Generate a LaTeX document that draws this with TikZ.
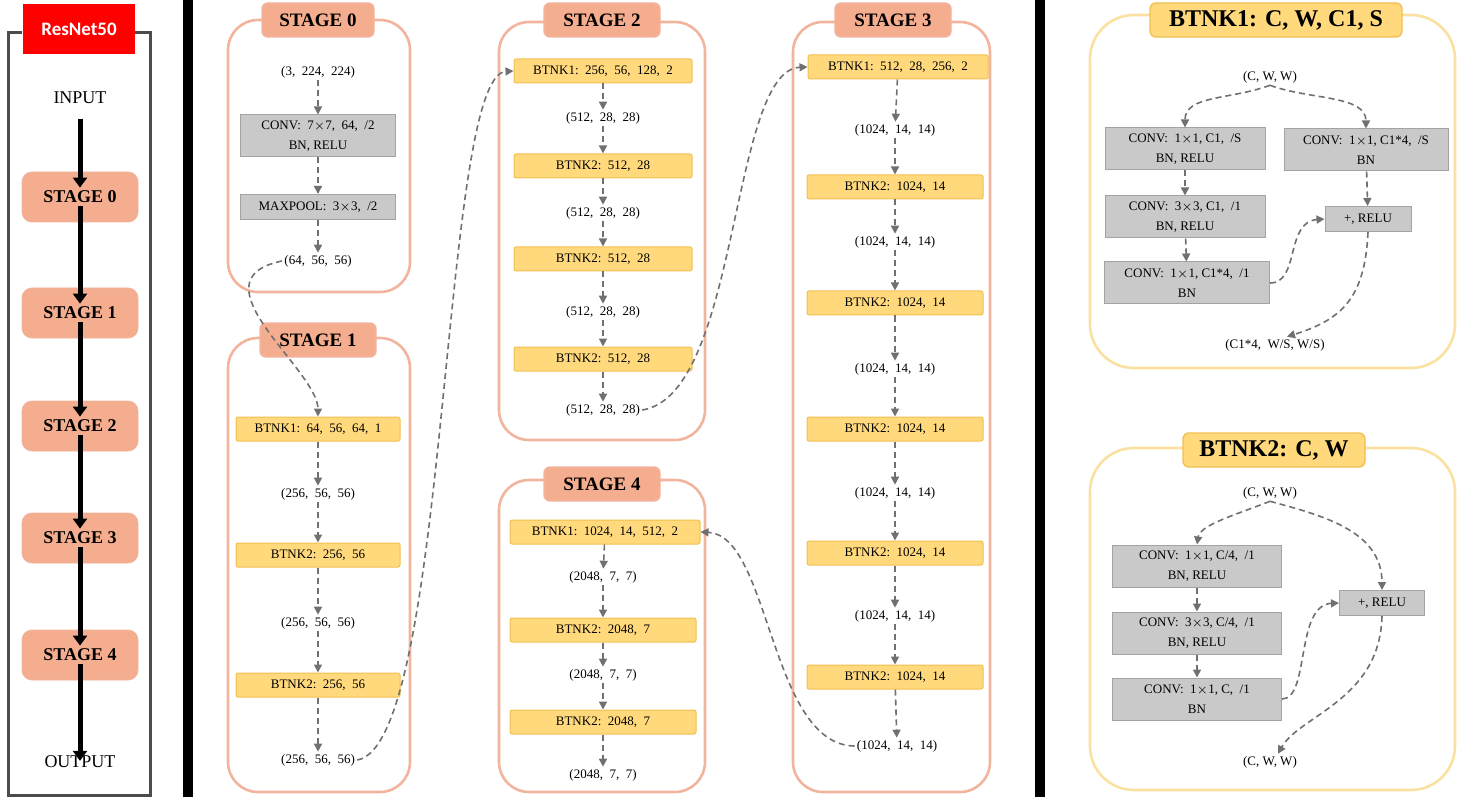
\documentclass[tikz,border=0pt]{standalone}
\usepackage{fontspec}
\setmainfont{Liberation Serif}
\newfontfamily\carl{Carlito}
\usetikzlibrary{arrows.meta}
\definecolor{stfill}{HTML}{F5AD8F}
\definecolor{stline}{HTML}{F2B49C}
\definecolor{btfill}{HTML}{FFD97C}
\definecolor{btline}{HTML}{F0C050}
\definecolor{gyfill}{HTML}{C9C9C9}
\definecolor{gyline}{HTML}{A3A3A3}
\definecolor{pnline}{HTML}{FBE1A0}
\definecolor{arr}{HTML}{707070}
\tikzset{
 txt/.style={font=\fontsize{6.5}{8}\selectfont, inner sep=1pt},
 gbox/.style={txt, draw=gyline, fill=gyfill, align=center, line width=0.5pt, minimum height=12.5pt},
 ybox/.style={txt, draw=btline, fill=btfill, rounded corners=1pt, minimum height=12pt, line width=0.5pt},
 stitle/.style={draw=stline, fill=stfill, rounded corners=3pt, font=\bfseries\fontsize{9.5}{11}\selectfont, minimum height=17pt, line width=0.7pt},
 container/.style={draw=stline, line width=1.3pt, rounded corners=15pt},
 panel/.style={draw=pnline, line width=1.3pt, rounded corners=22pt},
 ptitle/.style={draw=btline, fill=btfill, rounded corners=3pt, font=\bfseries\fontsize{12}{14}\selectfont, minimum height=17pt, line width=0.7pt},
 da/.style={draw=arr, dashed, line width=0.8pt, dash pattern=on 3pt off 2pt, -{Triangle[width=4pt,length=4pt]}},
 lstage/.style={draw=stline, fill=stfill, rounded corners=5pt, font=\bfseries\fontsize{9}{11}\selectfont, minimum width=58pt, minimum height=25pt},
 blk/.style={line width=2.5pt, -{Triangle[width=7pt,length=5pt]}},
}
\begin{document}
\begin{tikzpicture}[x=0.5pt,y=-0.5pt]
\useasboundingbox (0,0) rectangle (1464,797);
% black bars
\fill (183,0) rectangle (193,797);
\fill (1035,0) rectangle (1045,797);
% left panel
\draw[draw=black!70, line width=1.5pt] (22,33) -- (8,33) -- (8,795) -- (150,795) -- (150,33) -- (135,33);
\node[fill=red, text=white, font=\carl\bfseries\fontsize{9.5}{11}\selectfont, minimum width=56pt, minimum height=25pt] (rn) at (79,29) {ResNet50};
\node[font=\fontsize{9}{11}\selectfont] (inp) at (80,98) {INPUT};
\node[lstage] (l0) at (80,197) {STAGE 0};
\node[lstage] (l1) at (80,313) {STAGE 1};
\node[lstage] (l2) at (80,426) {STAGE 2};
\node[lstage] (l3) at (80,538) {STAGE 3};
\node[lstage] (l4) at (80,655) {STAGE 4};
\node[font=\fontsize{9}{11}\selectfont] (out) at (80,762) {OUTPUT};
\draw[blk] (inp.south)++(0,8) -- ([yshift=-8]l0.north);
\draw[blk] ([yshift=8]l0.south) -- ([yshift=-8]l1.north);
\draw[blk] ([yshift=8]l1.south) -- ([yshift=-8]l2.north);
\draw[blk] ([yshift=8]l2.south) -- ([yshift=-8]l3.north);
\draw[blk] ([yshift=8]l3.south) -- ([yshift=-8]l4.north);
\draw[blk] ([yshift=8]l4.south) -- ([yshift=-6]out.north);
% stage 0
\draw[container] (228,20) rectangle (410,292);
\node[stitle, minimum width=56pt] (t0) at (318,20) {STAGE 0};
\node[txt] (a0) at (318,72) {(3,\ \ 224,\ \ 224)};
\node[gbox, minimum width=77.5pt, minimum height=21pt] (a1) at (318,136) {CONV:\ \ 7$\times$7,\ \ 64,\ \ /2\\[2pt]BN,\ RELU};
\node[gbox, minimum width=77.5pt] (a2) at (318,207) {MAXPOOL:\ \ 3$\times$3,\ \ /2};
\node[txt] (a3) at (318,261) {(64,\ \ 56,\ \ 56)};
\draw[da] (a0) -- (a1); \draw[da] (a1) -- (a2); \draw[da] (a2) -- (a3);
% stage 1
\draw[container] (228,338) rectangle (410,792);
\node[stitle, minimum width=58pt] (t1) at (318,340) {STAGE 1};
\node[ybox, minimum width=82pt] (b0) at (318,429) {BTNK1:\ \ 64,\ \ 56,\ \ 64,\ \ 1};
\node[txt] (b1) at (318,494) {(256,\ \ 56,\ \ 56)};
\node[ybox, minimum width=82pt] (b2) at (318,555) {BTNK2:\ \ 256,\ \ 56};
\node[txt] (b3) at (318,623) {(256,\ \ 56,\ \ 56)};
\node[ybox, minimum width=82pt] (b4) at (318,685) {BTNK2:\ \ 256,\ \ 56};
\node[txt] (b5) at (318,760) {(256,\ \ 56,\ \ 56)};
\draw[da] (b0) -- (b1); \draw[da] (b1) -- (b2); \draw[da] (b2) -- (b3); \draw[da] (b3) -- (b4); \draw[da] (b4) -- (b5);
% stage 2
\draw[container] (499,22) rectangle (705,440);
\node[stitle, minimum width=58pt] (t2) at (602,20) {STAGE 2};
\node[ybox, minimum width=89pt] (c0) at (603,71) {BTNK1:\ \ 256,\ \ 56,\ \ 128,\ \ 2};
\node[txt] (c1) at (603,118) {(512,\ \ 28,\ \ 28)};
\node[ybox, minimum width=89pt] (c2) at (603,166) {BTNK2:\ \ 512,\ \ 28};
\node[txt] (c3) at (603,213) {(512,\ \ 28,\ \ 28)};
\node[ybox, minimum width=89pt] (c4) at (603,259) {BTNK2:\ \ 512,\ \ 28};
\node[txt] (c5) at (603,312) {(512,\ \ 28,\ \ 28)};
\node[ybox, minimum width=89pt] (c6) at (603,359) {BTNK2:\ \ 512,\ \ 28};
\node[txt] (c7) at (603,410) {(512,\ \ 28,\ \ 28)};
\foreach \p/\q in {c0/c1,c1/c2,c2/c3,c3/c4,c4/c5,c5/c6,c6/c7} \draw[da] (\p) -- (\q);
% stage 4
\draw[container] (499,480) rectangle (705,792);
\node[stitle, minimum width=58pt] (t4) at (602,484) {STAGE 4};
\node[ybox, minimum width=95pt] (e0) at (605,532) {BTNK1:\ \ 1024,\ \ 14,\ \ 512,\ \ 2};
\node[txt] (e1) at (603,577) {(2048,\ \ 7,\ \ 7)};
\node[ybox, minimum width=93pt] (e2) at (603,630) {BTNK2:\ \ 2048,\ \ 7};
\node[txt] (e3) at (603,675) {(2048,\ \ 7,\ \ 7)};
\node[ybox, minimum width=93pt] (e4) at (603,722) {BTNK2:\ \ 2048,\ \ 7};
\node[txt] (e5) at (603,775) {(2048,\ \ 7,\ \ 7)};
\foreach \p/\q in {e0/e1,e1/e2,e2/e3,e3/e4,e4/e5} \draw[da] (\p) -- (\q);
% stage 3
\draw[container] (793,22) rectangle (990,792);
\node[stitle, minimum width=58pt] (t3) at (893,20) {STAGE 3};
\node[ybox, minimum width=90pt] (d0) at (898,67) {BTNK1:\ \ 512,\ \ 28,\ \ 256,\ \ 2};
\node[txt] (d1) at (895,130) {(1024,\ \ 14,\ \ 14)};
\node[ybox, minimum width=88pt] (d2) at (895,187) {BTNK2:\ \ 1024,\ \ 14};
\node[txt] (d3) at (895,242) {(1024,\ \ 14,\ \ 14)};
\node[ybox, minimum width=88pt] (d4) at (895,303) {BTNK2:\ \ 1024,\ \ 14};
\node[txt] (d5) at (895,369) {(1024,\ \ 14,\ \ 14)};
\node[ybox, minimum width=88pt] (d6) at (895,429) {BTNK2:\ \ 1024,\ \ 14};
\node[txt] (d7) at (895,493) {(1024,\ \ 14,\ \ 14)};
\node[ybox, minimum width=88pt] (d8) at (895,553) {BTNK2:\ \ 1024,\ \ 14};
\node[txt] (d9) at (895,616) {(1024,\ \ 14,\ \ 14)};
\node[ybox, minimum width=88pt] (d10) at (895,677) {BTNK2:\ \ 1024,\ \ 14};
\node[txt] (d11) at (897,746) {(1024,\ \ 14,\ \ 14)};
\foreach \p/\q in {d0/d1,d1/d2,d2/d3,d3/d4,d4/d5,d5/d6,d6/d7,d7/d8,d8/d9,d9/d10,d10/d11} \draw[da] (\p) -- (\q);
% inter-stage connectors
\draw[da] (a3.west) .. controls (190,280) and (318,370) .. (b0.north);
\draw[da] (b5.east) .. controls (450,745) and (440,75) .. (c0.west);
\draw[da] (c7.east) .. controls (740,395) and (730,70) .. (d0.west);
\draw[da] (d11.west) .. controls (770,745) and (770,535) .. (e0.east);
% BTNK1 panel
\draw[panel] (1090,15) rectangle (1455,368);
\node[ptitle, minimum width=126pt] (p1) at (1276,20) {BTNK1: C, W, C1, S};
\node[txt] (f0) at (1270,77) {(C,\ W,\ W)};
\node[gbox, minimum width=80pt, minimum height=21pt] (f1) at (1185,149) {CONV:\ \ 1$\times$1,\ C1,\ \ /S\\[2pt]BN,\ RELU};
\node[gbox, minimum width=82pt, minimum height=21pt] (f2) at (1366,150) {CONV:\ \ 1$\times$1,\ C1*4,\ \ /S\\[2pt]BN};
\node[gbox, minimum width=80pt, minimum height=21pt] (f3) at (1185,217) {CONV:\ \ 3$\times$3,\ C1,\ \ /1\\[2pt]BN,\ RELU};
\node[gbox, minimum width=43pt] (f4) at (1368,219) {+,\ RELU};
\node[gbox, minimum width=82.5pt, minimum height=21pt] (f5) at (1187,283) {CONV:\ \ 1$\times$1,\ C1*4,\ \ /1\\[2pt]BN};
\node[txt] (f6) at (1275,345) {(C1*4,\ \ W/S,\ W/S)};
\draw[da] (f0.south) .. controls (1230,100) and (1185,95) .. (f1.north);
\draw[da] (f0.south) .. controls (1310,100) and (1366,95) .. (f2.north);
\draw[da] (f1) -- (f3); \draw[da] (f3) -- (f5); \draw[da] (f2) -- (f4);
\draw[da] (f5.east) .. controls (1300,283) and (1285,222) .. (f4.west);
\draw[da] (f4.south) .. controls (1365,300) and (1340,320) .. ([xshift=6]f6.north);
% BTNK2 panel
\draw[panel] (1090,448) rectangle (1455,790);
\node[ptitle, minimum width=91pt] (p2) at (1274,450) {BTNK2: C, W};
\node[txt] (g0) at (1270,493) {(C,\ W,\ W)};
\node[gbox, minimum width=84.5pt, minimum height=21pt] (g1) at (1197,566) {CONV:\ \ 1$\times$1,\ C/4,\ \ /1\\[2pt]BN,\ RELU};
\node[gbox, minimum width=84.5pt, minimum height=21pt] (g2) at (1197,633) {CONV:\ \ 3$\times$3,\ C/4,\ \ /1\\[2pt]BN,\ RELU};
\node[gbox, minimum width=84.5pt, minimum height=21pt] (g3) at (1197,699) {CONV:\ \ 1$\times$1,\ C,\ \ /1\\[2pt]BN};
\node[gbox, minimum width=42.5pt] (g4) at (1382,603) {+,\ RELU};
\node[txt] (g5) at (1270,762) {(C,\ W,\ W)};
\draw[da] (g0.south) .. controls (1235,515) and (1200,525) .. (g1.north);
\draw[da] (g0.south) .. controls (1320,515) and (1382,530) .. (g4.north);
\draw[da] (g1) -- (g2); \draw[da] (g2) -- (g3);
\draw[da] (g3.east) .. controls (1310,699) and (1295,605) .. (g4.west);
\draw[da] (g4.south) .. controls (1380,700) and (1300,715) .. ([xshift=4]g5.north);
\end{tikzpicture}
\end{document}
